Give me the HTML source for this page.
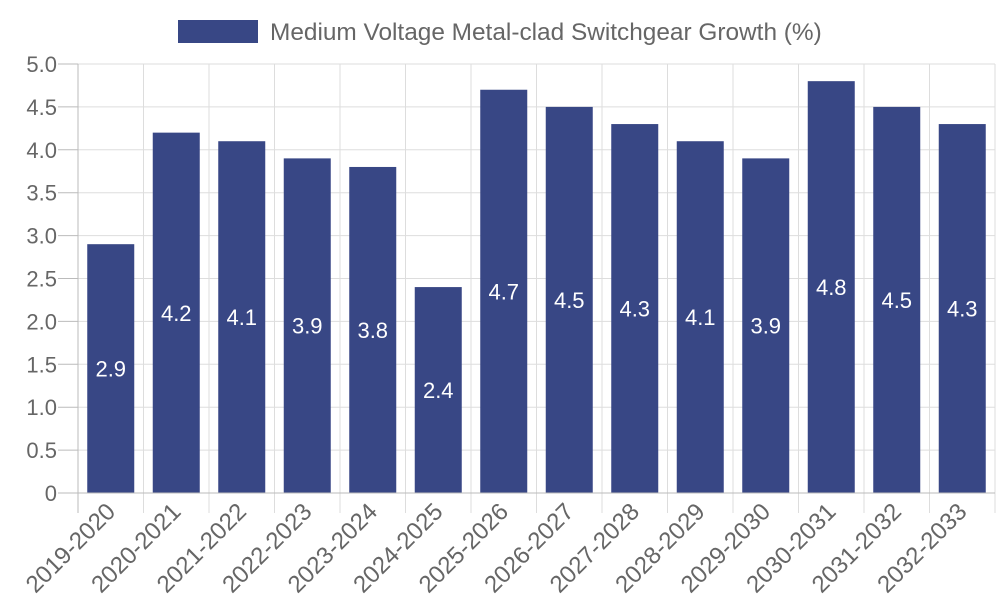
<!DOCTYPE html>
<html><head><meta charset="utf-8"><style>
html,body{margin:0;padding:0;background:#fff;}
svg{display:block;font-family:"Liberation Sans",sans-serif;}
</style></head><body>
<svg id="chart" width="1000" height="600">
  <g>
    <rect x="178" y="20" width="80" height="23" fill="#384785"/>
    <text x="270" y="40" font-size="24.4" fill="#666">Medium Voltage Metal-clad Switchgear Growth (%)</text>
  </g>
  <g id="grid"></g>
  <g id="bars"></g>
  <g id="axes"></g>
</svg>
<script>
const categories = ["2019-2020","2020-2021","2021-2022","2022-2023","2023-2024","2024-2025","2025-2026","2026-2027","2027-2028","2028-2029","2029-2030","2030-2031","2031-2032","2032-2033"];
const values = [2.9,4.2,4.1,3.9,3.8,2.4,4.7,4.5,4.3,4.1,3.9,4.8,4.5,4.3];
const yTicks = [0,0.5,1,1.5,2,2.5,3,3.5,4,4.5,5];
const yTickLabels = ["0","0.5","1.0","1.5","2.0","2.5","3.0","3.5","4.0","4.5","5.0"];

const NS="http://www.w3.org/2000/svg";
const L=78,R=995,T=64,B=493,yMax=5;
const step=(R-L)/categories.length;
const y=v=>B-(v/yMax)*(B-T);
const xc=i=>L+step*(i+0.5);
function mk(tag,attrs,parent){const e=document.createElementNS(NS,tag);for(const k in attrs)e.setAttribute(k,attrs[k]);parent.appendChild(e);return e;}
const grid=document.getElementById('grid'),bars=document.getElementById('bars'),axes=document.getElementById('axes');
yTicks.forEach((t,i)=>{
  const g=mk('line',{x1:L,x2:R,y1:y(t),y2:y(t),stroke:'#ddd','stroke-width':1},grid);
  
  
  const tk=mk('line',{x1:L-20,x2:L,y1:y(t),y2:y(t),stroke:'#bbb','stroke-width':1},axes);
  
  
  const tx=mk('text',{x:L-21,y:y(t)+8,'text-anchor':'end','font-size':22,fill:'#666'},axes);
  tx.textContent=yTickLabels[i];
  
  
});
for(let i=0;i<=categories.length;i++){
  const x=L+step*i;
  const g=mk('line',{x1:x,x2:x,y1:T,y2:B+20,stroke:i==0?'#bbb':'#ddd','stroke-width':1},grid);
  
  
}
const za=mk('line',{x1:L,x2:R,y1:B,y2:B,stroke:'#bbb','stroke-width':1},axes);


categories.forEach((c,i)=>{
  const bw=47,x=xc(i)-bw/2;
  const r=mk('rect',{x:x,y:y(values[i]),width:bw,height:B-y(values[i]),fill:'#384785'},bars);
  
  
  const v=mk('text',{x:xc(i),y:y(values[i]/2)+8,'text-anchor':'middle','font-size':22,fill:'#fff'},bars);
  v.textContent=values[i].toFixed(1);
  
  
  const lx=xc(i)+6,ly=B+20;
  const t=mk('text',{x:lx,y:ly,'text-anchor':'end','font-size':24,fill:'#666',transform:`rotate(-45 ${lx} ${ly})`},axes);
  t.textContent=c;
  
  
});
</script>
</body></html>
